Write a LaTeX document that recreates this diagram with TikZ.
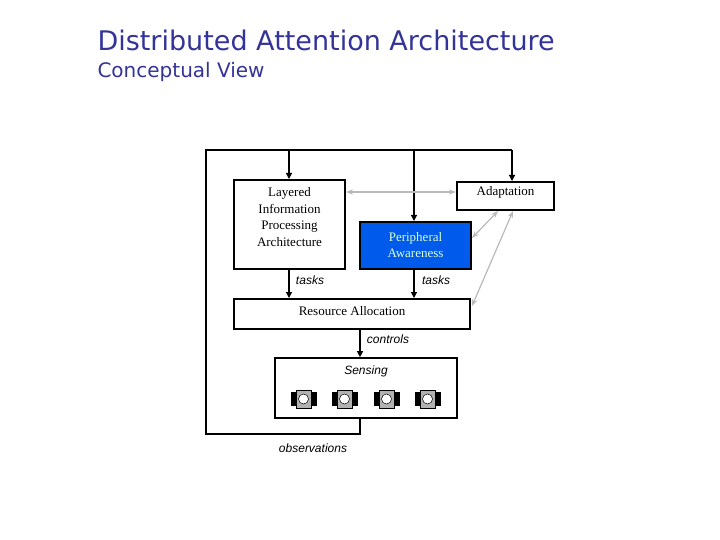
\documentclass[tikz,border=0pt]{standalone}
\usepackage{fontspec}
\setmainfont{Liberation Serif}
\newfontfamily\ttl{DejaVu Sans}
\newfontfamily\lab{Liberation Sans}
\usetikzlibrary{arrows.meta}
\definecolor{titleblue}{RGB}{51,51,153}
\definecolor{pablue}{RGB}{0,90,235}
\definecolor{patext}{RGB}{220,255,200}
\begin{document}
\begin{tikzpicture}[x=1pt,y=-1pt,
  box/.style={draw=black,line width=2pt,inner sep=0pt},
  blk/.style={line width=1.2pt,-{Triangle[length=6pt,width=6pt]}},
  gry/.style={draw=gray!55,line width=1.2pt,{Stealth[length=7pt]}-{Stealth[length=7pt]}},
  lbl/.style={font=\lab\itshape\fontsize{12}{14}\selectfont},
  btxt/.style={font=\fontsize{13}{16.5}\selectfont,align=center}]
\useasboundingbox (0,0) rectangle (720,540);
\node[anchor=west,text=titleblue,font=\ttl\fontsize{27}{30}\selectfont] (t1) at (94,40) {Distributed Attention Architecture};
\node[anchor=west,text=titleblue,font=\ttl\fontsize{20}{24}\selectfont] (t2) at (94,72) {Conceptual View};
% boxes
\node[box,minimum width=111pt,minimum height=89pt] (lipa) at (289.5,224.5) {};
\node[btxt] at (289.5,217) {Layered\\Information\\Processing\\Architecture};
\node[box,minimum width=97pt,minimum height=28pt] (ad) at (505.5,196) {};
\node[btxt] at (505.5,192) {Adaptation};
\node[box,fill=pablue,minimum width=111pt,minimum height=47pt] (pa) at (415.5,245.5) {};
\node[btxt,text=patext] at (415.5,245) {Peripheral\\Awareness};
\node[box,minimum width=236pt,minimum height=30pt] (ra) at (352,314) {};
\node[btxt] at (352,311) {Resource Allocation};
\node[box,line width=1.6pt,minimum width=182pt,minimum height=60pt] (se) at (366,388) {};
\node[lbl] at (366,371) {Sensing};
\foreach \x/\n in {304/a,345/b,387/c,428/d}{
  \fill[black] (\x-13,392) rectangle (\x+13,406);
  \filldraw[fill=gray!60,draw=black,line width=0.5pt] (\x-8,390) rectangle (\x+7,408);
  \filldraw[fill=white,draw=black,line width=0.5pt] (\x-0.5,399) circle (5pt);
}
% feedback loop
\coordinate (c1) at (360,434);
\coordinate (c2) at (206,434);
\coordinate (c3) at (206,150);
\coordinate (c4) at (512,150);
\draw[line width=1.2pt] (se.south -| c1) -- (c1) -- (c2) -- (c3) -- (c4);
\draw[blk] (289,150) -- (lipa.north -| 289,0);
\draw[blk] (414,150) -- (pa.north -| 414,0);
\draw[blk] (c4) -- (ad.north -| c4);
\draw[blk] (lipa.south -| 289,0) -- (ra.north -| 289,0);
\draw[blk] (pa.south -| 414,0) -- (ra.north -| 414,0);
\draw[blk] (ra.south -| 360,0) -- (se.north -| 360,0);
\node[lbl] at (310,280) {tasks};
\node[lbl] at (436,280) {tasks};
\node[lbl] at (388,339) {controls};
\node[lbl] at (313,448) {observations};
% gray arrows
\draw[gry] (346,192) -- (ad.west |- 0,192);
\draw[gry] (498,211) -- (472,238);
\draw[gry] (513,211) -- (472,306);
\end{tikzpicture}
\end{document}
